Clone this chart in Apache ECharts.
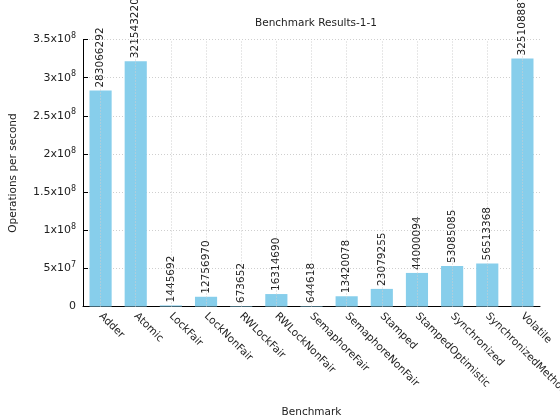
<!DOCTYPE html>
<html>
<head>
<meta charset="utf-8">
<script src="https://cdn.jsdelivr.net/npm/echarts@6/dist/echarts.min.js"></script>
<style>html,body{margin:0;padding:0;background:#fff}#c{width:560px;height:420px}</style>
</head>
<body>
<div id="c"></div>
<script>
const categories = ["Adder","Atomic","LockFair","LockNonFair","RWLockFair","RWLockNonFair","SemaphoreFair","SemaphoreNonFair","Stamped","StampedOptimistic","Synchronized","SynchronizedMethod","Volatile"];
const values = [283066292,321543220,1445692,12756970,673652,16314690,644618,13420078,23079255,44000094,53085085,56513368,325108887];
const yTickLabels = {0:"0",50000000:"5x10{s|7}",100000000:"1x10{s|8}",150000000:"1.5x10{s|8}",200000000:"2x10{s|8}",250000000:"2.5x10{s|8}",300000000:"3x10{s|8}",350000000:"3.5x10{s|8}"};

const FONT = "DejaVu Sans";
const chart = echarts.init(document.getElementById('c'));
chart.setOption({
  animation: false,
  backgroundColor: '#fff',
  title: {
    text: 'Benchmark Results-1-1',
    left: 250, top: 13,
    textStyle: {fontFamily: FONT, fontSize: 10.5, fontWeight: 'normal', color: '#222'}
  },
  grid: {left: 83, right: 20, top: 39.5, bottom: 113.5, containLabel: false, outerBoundsMode: 'none'},
  xAxis: {
    type: 'category',
    data: categories,
    name: 'Benchmark',
    nameLocation: 'middle',
    nameGap: 100,
    nameTextStyle: {fontFamily: FONT, fontSize: 10.5, color: '#222'},
    axisLine: {lineStyle: {color: '#000', width: 1}},
    axisTick: {show: false},
    axisLabel: {rotate: -45, margin: 8, fontFamily: FONT, fontSize: 10.5, color: '#222', interval: 0},
    splitLine: {show: false}
  },
  yAxis: {
    type: 'value',
    min: 0, max: 350000000, interval: 50000000,
    name: 'Operations per second',
    nameLocation: 'middle',
    nameGap: 64,
    nameTextStyle: {fontFamily: FONT, fontSize: 10.5, color: '#222'},
    axisLine: {show: true, lineStyle: {color: '#000', width: 1}},
    axisTick: {show: true, inside: true, length: 5, lineStyle: {color: '#000'}},
    axisLabel: {
      margin: 7,
      fontFamily: FONT, fontSize: 11, color: '#222',
      formatter: v => yTickLabels[v] !== undefined ? yTickLabels[v] : '',
      rich: {
        s: {fontFamily: FONT, fontSize: 8, color: '#222', padding: [0, 0, 7, 0]}
      }
    },
    splitLine: {show: true, lineStyle: {color: '#cfcfcf', type: [1, 2], width: 1}}
  },
  series: [
    {
      type: 'line',
      data: [],
      z: 0,
      silent: true,
      markLine: {
        silent: true,
        symbol: 'none',
        label: {show: false},
        lineStyle: {color: '#cfcfcf', type: [1, 2], width: 1},
        data: categories.map(c => ({xAxis: c}))
      }
    },
    {
      type: 'bar',
      data: values,
      z: 2,
      barCategoryGap: '37%',
      itemStyle: {color: '#87CEEB'},
      label: {
        show: true,
        position: 'top',
        rotate: 90,
        align: 'left',
        verticalAlign: 'middle',
        distance: 3,
        fontFamily: FONT,
        fontSize: 10.5,
        color: '#222',
        formatter: p => String(p.value)
      }
    }
  ]
});
</script>
</body>
</html>
